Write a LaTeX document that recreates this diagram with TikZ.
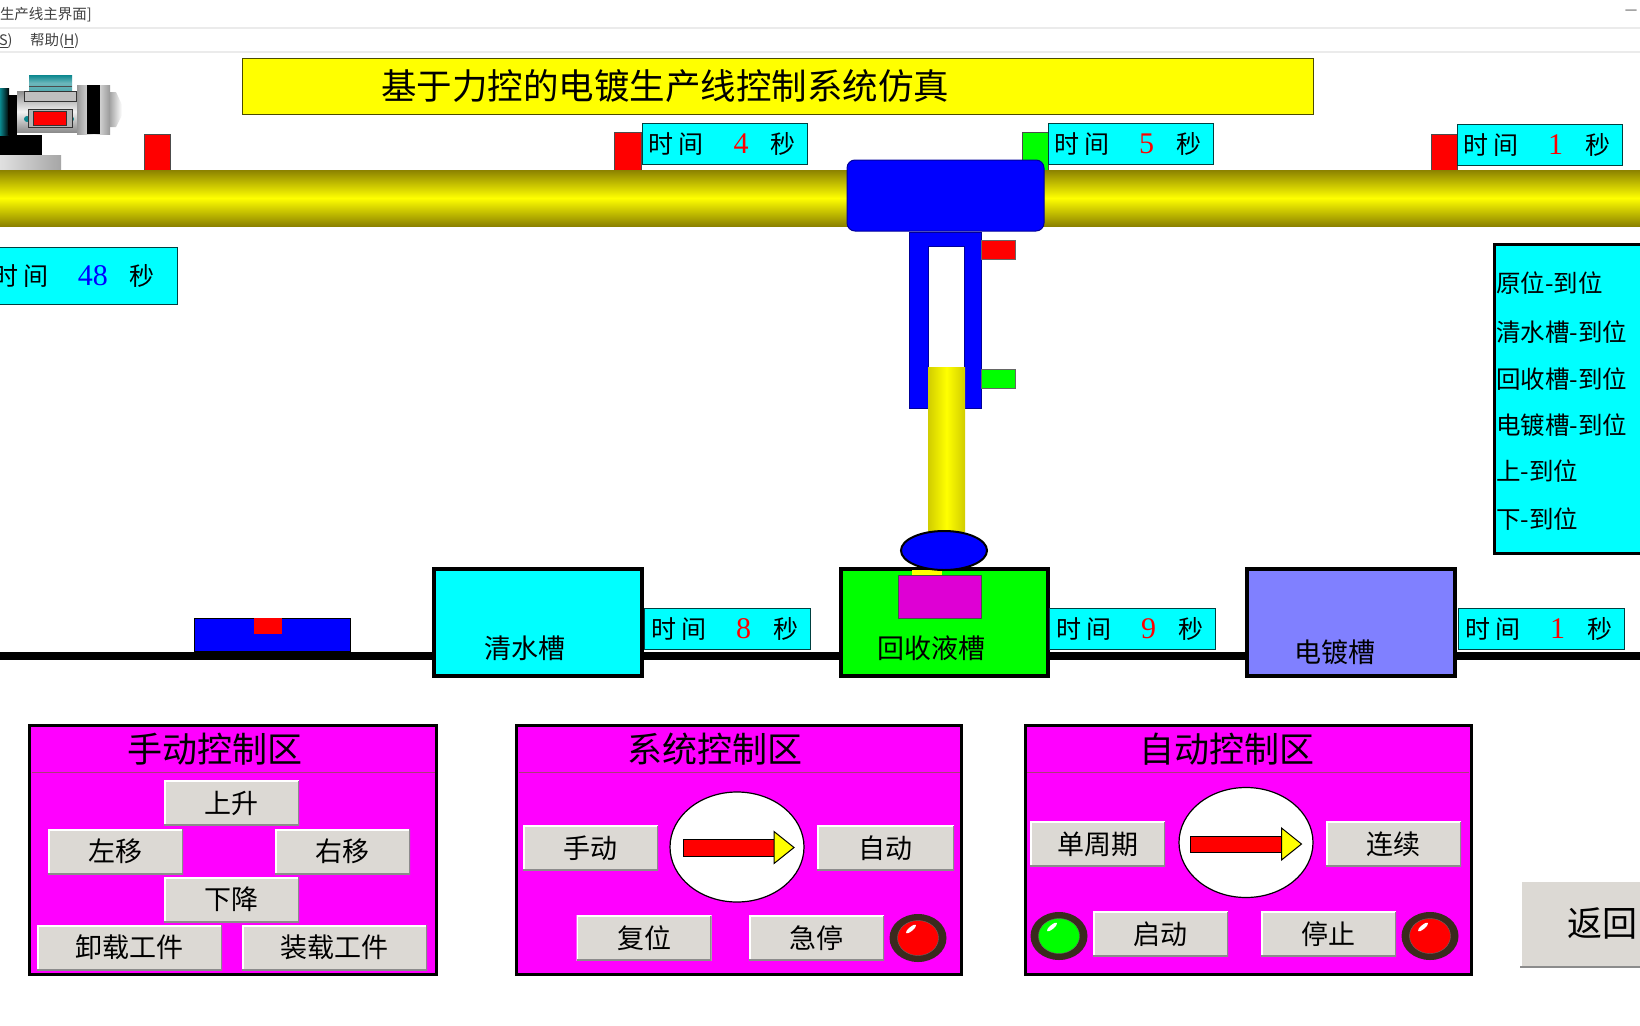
\documentclass[tikz,border=0pt]{standalone}
\usepackage{fontspec}
\setmainfont{Noto Sans CJK SC}
\newfontfamily\numfont{Liberation Serif}
\usetikzlibrary{shapes.geometric}
\definecolor{cyan}{RGB}{0,255,255}
\definecolor{yellow}{RGB}{255,255,0}
\definecolor{panelpink}{RGB}{255,0,255}
\definecolor{btngray}{RGB}{220,217,212}
\definecolor{beamdark}{RGB}{140,130,0}
\definecolor{tankblue}{RGB}{128,128,255}
\definecolor{workpiece}{RGB}{222,0,212}
\definecolor{lampring}{RGB}{58,42,30}
\definecolor{motorteal}{RGB}{10,135,142}
\newcommand{\pxfont}[1]{\fontsize{#1}{#1}\selectfont}
\newcommand{\timetext}[4]{时\hspace{5pt}间\makebox[#3pt]{\hspace{8pt}\numfont\pxfont{30}\textcolor{#1}{#2}}秒\hspace*{#4pt}}
\tikzset{
  every node/.style={inner sep=0pt,outer sep=0pt},
  wh/.style 2 args={minimum width=#1pt,minimum height=#2pt},
  beambar/.style={shade,top color=beamdark,bottom color=beamdark,middle color=yellow},
  flagbox/.style={draw=black!70,line width=0.8pt},
  timebox/.style={draw=black!75!cyan,fill=cyan,line width=1pt,wh={165}{41},font=\pxfont{25}},
  tank/.style={draw=black,line width=4pt},
  tanklabel/.style={font=\pxfont{27}},
  railline/.style={line width=8pt},
  statuslabel/.style={anchor=west,font=\pxfont{24.5}},
  ctrlpanel/.style={draw=black,fill=panelpink,line width=3pt,wh={#1}{249}},
  paneltitle/.style={font=\pxfont{35},minimum height=45pt},
  titleline/.style={draw=black!35!magenta,line width=1pt,shorten <=2pt,shorten >=2pt},
  btn/.style={fill=btngray,wh={135}{45},font=\pxfont{27},path picture={
      \draw[white,line width=3pt] (path picture bounding box.south west) -- (path picture bounding box.north west) -- (path picture bounding box.north east);
      \draw[black!45,line width=3pt] (path picture bounding box.north east) -- (path picture bounding box.south east) -- (path picture bounding box.south west);}},
  dial/.style={ellipse,draw=black,fill=white,line width=1.2pt,wh={134}{110}},
  pointer/.style={draw=black,fill=red,line width=1pt,wh={91}{16}},
  pointertip/.style={draw=black,fill=yellow,line width=1pt},
  lampbase/.style={ellipse,fill=lampring,wh={57}{48}},
  lampglow/.style={ellipse,draw=black!60,fill=#1,wh={41}{35}},
  glint/.style={ellipse,fill=white,wh={13}{4},rotate=40},
  sepline/.style={draw=black!8,line width=1.5pt},
  menutext/.style={anchor=west,font=\pxfont{14.5},text=black!75},
}
\begin{document}
\begin{tikzpicture}[x=1pt,y=-1pt]
    \useasboundingbox (0,0) rectangle (1640,1025);
    \fill[white] (0,0) rectangle (1640,1025);
    \draw[sepline] (0,28) -- (1640,28);
    \draw[sepline] (0,52) -- (1640,52);
    \node[menutext] (wintitle) at (0,15) {生产线主界面]};
    \node[font=\pxfont{14},text=black!70] (winmin) at (1631,12) {—};
    \node[menutext] (menuS) at (-1,41) {\underline{S})};
    \node[menutext] (menuH) at (30,41) {帮助(\underline{H})};
    \node[fill=yellow,draw=black!70!yellow,line width=1pt,wh={1071}{55}] (titlebar) at (777.5,86.5) {};
    \node[font=\pxfont{35.5}] (titletext) at (665,86) {基于力控的电镀生产线控制系统仿真};
    \fill[black] (0,135) rectangle (42,155);
    \shade[left color=motorteal,right color=black] (0,88) rectangle (9,135);
    \fill[black] (8,95) rectangle (17,135);
    \shade[left color=black!12,right color=black!35] (0,155) rectangle (61,170);
    \shade[top color=black!45,bottom color=black!45,middle color=black!5] (17,91) rectangle (77,132);
    \shade[top color=motorteal,bottom color=motorteal!70!white,middle color=motorteal!60!white] (29,75) rectangle (72,91);
    \draw[black!70,line width=0.8pt] (29,86) -- (72,86);
    \draw[black!80,line width=0.8pt,fill=black!25] (24,91) rectangle (76,101);
    \fill[motorteal] (27,119) circle (3);
    \fill[motorteal] (71,119) circle (3);
    \draw[black!80,line width=0.8pt,fill=black!30] (28,109) rectangle (72,127);
    \draw[black!80,line width=0.8pt,fill=red] (33,111) rectangle (66,125);
    \shade[left color=black!40,right color=black!40,middle color=black!5] (77,85) rectangle (110,134);
    \fill[black] (87,85) rectangle (100,134);
    \shade[left color=black!35,right color=white] (110,92) -- (116,92) -- (122,105) -- (122,115) -- (116,127) -- (110,127) -- cycle;
    \node[flagbox,fill=red,wh={26}{36}] (postA) at (157.5,152) {};
    \node[flagbox,fill=red,wh={27}{38}] (postB) at (628,151) {};
    \node[flagbox,fill=green,wh={26}{38}] (postC) at (1035,151) {};
    \node[flagbox,fill=red,wh={26}{36}] (postD) at (1444,152) {};
    \node[beambar,wh={1660}{56}] (beam) at (820,198) {};
    \node[timebox] (timeB) at (725,144) {\timetext{red}{4}{67}{6}};
    \node[timebox] (timeC) at (1130.5,144) {\timetext{red}{5}{67}{6}};
    \node[timebox] (timeD) at (1539.5,145) {\timetext{red}{1}{67}{6}};
    \node[timebox,wh={197}{57}] (timeTotal) at (78.5,275.5) {\timetext{blue}{48}{80}{9}};
    \node[draw=blue!60!black,fill=blue,line width=0.8pt,wh={72}{176}] (fork) at (945,320) {};
    \node[draw=blue!60!black,fill=white,line width=0.8pt,wh={36}{162}] (forkgap) at (946,327) {};
    \node[draw=black!60,fill=red,line width=0.8pt,wh={34}{19}] (upflag) at (998,249.5) {};
    \node[draw=black!60,fill=green,line width=0.8pt,wh={34}{19}] (downflag) at (998,378.5) {};
    \node[shade,left color=beamdark!40!yellow,right color=beamdark!40!yellow,middle color=yellow,wh={37}{164}] (rod) at (946.5,449) {};
    \node[rounded corners=8pt,draw=blue!60!black,fill=blue,line width=1pt,wh={197}{71}] (carriage) at (945.5,195.5) {};
    \coordinate (railL) at (0,656);
    \coordinate (railR) at (1640,656);
    \node[tank,fill=cyan,wh={208}{107}] (rinsetank) at (537.5,622.5) {};
    \node[tank,fill=green,wh={207}{107}] (recovertank) at (944.5,622.5) {};
    \node[tank,fill=tankblue,wh={208}{107}] (platetank) at (1351,622.5) {};
    \draw[railline] (railL) -- (rinsetank.west |- railL);
    \draw[railline] (rinsetank.east |- railL) -- (recovertank.west |- railL);
    \draw[railline] (recovertank.east |- railL) -- (platetank.west |- railL);
    \draw[railline] (platetank.east |- railL) -- (railR);
    \node[timebox,wh={166}{41}] (timeE) at (727.5,629) {\timetext{red}{8}{67}{6}};
    \node[timebox,wh={166}{41}] (timeF) at (1132.5,629) {\timetext{red}{9}{67}{6}};
    \node[timebox,wh={166}{41}] (timeG) at (1541.5,629) {\timetext{red}{1}{67}{6}};
    \node[tanklabel] (rinselabel) at (524.5,648) {清水槽};
    \node[tanklabel] (recoverlabel) at (931,648) {回收液槽};
    \node[tanklabel] (platelabel) at (1334.5,652) {电镀槽};
    \node[fill=blue,draw=black,line width=0.6pt,wh={156}{33}] (trolley) at (272,634.5) {};
    \node[fill=red,wh={28}{16}] (trolleymark) at (268,626) {};
    \node[fill=yellow,wh={30}{6}] (hookpiece) at (927,573) {};
    \node[draw=black!70,fill=workpiece,line width=1pt,wh={83}{43}] (plateobj) at (939.5,596.5) {};
    \node[ellipse,draw=black,fill=blue,line width=2pt,wh={86}{39}] (gripper) at (944,550.5) {};
    \node[draw=black,fill=cyan,line width=3pt,wh={166}{309}] (statuspanel) at (1577,398.5) {};
    \node[statuslabel] (statusA) at (1496,283) {原位-到位};
    \node[statuslabel] (statusB) at (1496,332) {清水槽-到位};
    \node[statuslabel] (statusC) at (1496,379) {回收槽-到位};
    \node[statuslabel] (statusD) at (1496,425) {电镀槽-到位};
    \node[statuslabel] (statusE) at (1496,471) {上-到位};
    \node[statuslabel] (statusF) at (1496,519) {下-到位};
    \node[ctrlpanel=407] (manualpanel) at (233,850) {};
    \node[paneltitle] (manualtitle) at (214.5,749.5) {手动控制区};
    \draw[titleline] (manualpanel.west |- manualtitle.south) -- (manualpanel.east |- manualtitle.south);
    \node[btn] (btnup) at (231.5,803) {上升};
    \node[btn] (btnleft) at (115.5,851.5) {左移};
    \node[btn] (btnright) at (342.5,851.5) {右移};
    \node[btn] (btndown) at (231.5,899.5) {下降};
    \node[btn,wh={185}{45}] (btnunload) at (129.5,947.5) {卸载工件};
    \node[btn,wh={185}{45}] (btnload) at (334.5,947.5) {装载工件};
    \node[ctrlpanel=445] (systempanel) at (739,850) {};
    \node[paneltitle] (systemtitle) at (714.5,749.5) {系统控制区};
    \draw[titleline] (systempanel.west |- systemtitle.south) -- (systempanel.east |- systemtitle.south);
    \node[btn] (btnmanual) at (590.5,848) {手动};
    \node[btn,wh={137}{45}] (btnauto) at (885.5,848) {自动};
    \node[btn] (btnreset) at (644,938) {复位};
    \node[btn] (btnstop) at (816.5,938) {急停};
    \node[dial] (modedial) at (737,847) {};
    \node[pointer,wh={91}{17}] (modebar) at (728.5,847.5) {};
    \draw[pointertip] (modebar.east) ++(0,-16) -- ++(20,16) -- ++(-20,16) -- cycle;
    \node[lampbase] (stoplampring) at (918,938) {};
    \node[lampglow=red] (stoplamp) at (918,938) {};
    \node[glint] (stopglint) at (911,929) {};
    \node[ctrlpanel=446] (autopanel) at (1248,850) {};
    \node[paneltitle] (autotitle) at (1227,749.5) {自动控制区};
    \draw[titleline] (autopanel.west |- autotitle.south) -- (autopanel.east |- autotitle.south);
    \node[btn] (btnsingle) at (1097.5,844) {单周期};
    \node[btn] (btncont) at (1393.5,844) {连续};
    \node[btn] (btnstart) at (1160.5,934) {启动};
    \node[btn] (btnhalt) at (1328.5,934) {停止};
    \node[dial] (cycledial) at (1246,842.5) {};
    \node[pointer] (cyclebar) at (1236,844) {};
    \draw[pointertip] (cyclebar.east) ++(0,-16) -- ++(20,16) -- ++(-20,16) -- cycle;
    \node[lampbase] (startlampring) at (1059,936) {};
    \node[lampglow=green] (startlamp) at (1059,936) {};
    \node[glint] (startglint) at (1052,927) {};
    \node[lampbase] (haltlampring) at (1430,936) {};
    \node[lampglow=red] (haltlamp) at (1430,936) {};
    \node[glint] (haltglint) at (1423,927) {};
    \node[btn,wh={164}{87},font=\pxfont{35}] (btnback) at (1602,923.5) {返回};
\end{tikzpicture}
\end{document}
